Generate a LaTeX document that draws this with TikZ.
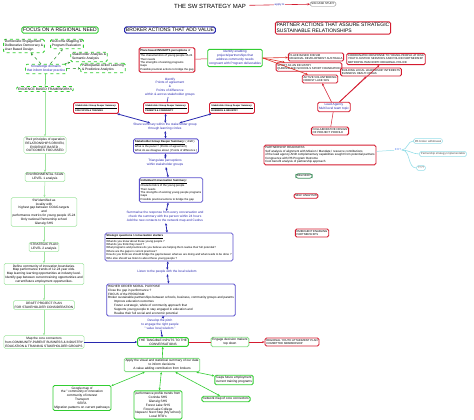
\documentclass[tikz,border=0pt]{standalone}
\usepackage{fontspec}
\setmainfont{Liberation Sans}
\usetikzlibrary{arrows.meta, positioning}

\definecolor{grn}{RGB}{50,205,50}
\definecolor{lgrn}{RGB}{160,228,160}
\definecolor{rd}{RGB}{212,28,48}
\definecolor{blu}{RGB}{90,80,205}
\definecolor{btx}{RGB}{40,40,175}
\definecolor{cyn}{RGB}{150,222,232}
\definecolor{dgrn}{RGB}{70,150,100}

\newcommand{\hd}{\fontsize{5}{6}\selectfont}
\newcommand{\sm}{\fontsize{2.8}{3.4}\selectfont}
\newcommand{\tn}{\fontsize{2.3}{2.9}\selectfont}

\begin{document}
\begin{tikzpicture}[x=1pt, y=-1pt, >={Stealth[length=2.4pt,width=2.2pt]},
  font=\fontsize{3.2}{3.9}\selectfont,
  box/.style={draw, rounded corners=1.5pt, inner sep=1.3pt, fill=white},
  gbox/.style={box, draw=grn, line width=0.9pt, align=center},
  gdash/.style={box, draw=grn, line width=0.9pt, dashed, align=left, font=\fontsize{3.3}{3.9}\selectfont},
  lgbox/.style={box, draw=lgrn, line width=0.5pt, align=center},
  rbox/.style={box, draw=rd, line width=0.9pt, align=left},
  bbox/.style={box, draw=blu, line width=0.8pt, align=left},
  cbox/.style={box, draw=cyn, line width=0.5pt, text=gray!60!black},
  btxt/.style={text=btx, align=center, inner sep=0.5pt},
  garrow/.style={->, draw=lgrn, line width=0.5pt},
  gdarrow/.style={<->, draw=grn, line width=0.6pt},
  barrow/.style={<->, draw=btx, line width=0.8pt},
  rarrow/.style={->, draw=rd, line width=0.6pt}]
\useasboundingbox (0,0) rectangle (474,420);

% Title and headings
\node[font=\fontsize{6}{7}\selectfont] (title) at (210,6) {THE SW STRATEGY MAP};
\node[box, draw=gray, line width=0.4pt, font=\sm] (case) at (323,4) {SW CASE STUDY};
\draw[rarrow] (title) -- node[fill=white, text=btx, font=\sm, inner sep=0.3pt] {apply to} (case);
\node[gbox, font=\hd] (focus) at (60,30) {FOCUS ON A REGIONAL NEED};
\node[bbox, draw=btx, line width=1pt, font=\hd] (broker) at (170,30) {BROKER ACTIONS THAT ADD VALUE};
\node[rbox, font=\hd] (partner) at (333,28) {PARTNER ACTIONS THAT ASSURE STRATEGIC\\SUSTAINABLE RELATIONSHIPS};

% Knowledge domains
\node[gdash] (demo) at (24,46) {Democratic Engagement\\Deliberative Democracy \&\\User Based Design};
\node[gdash] (outcome) at (67,44) {Outcome Mapping \&\\Program Evaluation};
\node[gdash] (stake) at (89,57) {Stakeholder Analysis \&\\Semantic Analysis};
\node[gdash] (pal) at (103,68) {Participative Action Learning\\\& Predictive Analytics};
\node[gdash, text=btx, align=center] (know) at (46,69) {Knowledge domains\\that inform broker practice};
\node[gdash] (evid) at (45,89) {EVIDENCE BASED FRAMEWORKS};
\foreach \d in {demo, outcome, stake, pal}
  \draw[->, draw=grn!70!black, dashed, line width=0.5pt] (know) -- (\d);
\draw[draw=grn, line width=0.5pt] (know) -- (evid);

% Regional need column
\node[lgbox] (princ) at (45,145) {Their principles of operation\\RELATIONSHIPS DRIVEN,\\EVIDENCE BASED ,\\OUTCOMES FOCUSSED};
\node[lgbox] (env) at (45,177) {ENVIRONMENTAL SCAN\\LEVEL 1 analysis};
\node[lgbox] (swid) at (44,212) {SW identified as\\locality with\\highest gap between COAG targets\\and\\performance metrics for young people 15-24\\Only national Partnership school\\Glenelg SHS};
\node[lgbox] (strat) at (44,247) {STRATEGIC PLAN\\LEVEL 2 analysis};
\node[lgbox] (define) at (44,274) {Define community of innovation boundaries.\\Map performance trends of 12-24 year olds.\\Map learning /earning opportunities at industry level.\\Identify gap between current training opportunities and\\current/future employment opportunities.};
\node[lgbox] (draft) at (44,305) {DRAFT PROJECT PLAN\\FOR STAKEHOLDER CONSIDERATION};
\node[lgbox] (mapcore) at (44,342) {Map the core connectors\\from COMMUNITY-PARENT BUSINESS \& INDUSTRY\\EDUCATION \& TRAINING STAKEHOLDER GROUPS};
\foreach \a/\b in {evid/princ, princ/env, env/swid, swid/strat, strat/define, define/draft, draft/mapcore}
  \draw[garrow] (\a) -- (\b);

% Broker actions column
\node[rbox, font=\sm] (place) at (167,60) {\underline{\textbf{Place based INSIGHTS perceptions}} of\\The characteristics of young people 15-24\\Their needs\\The strengths of existing programs\\Gaps\\Possible practical actions to bridge the gap};
\node[gbox, text=btx] (identify) at (235,58) {Identify enabling\\projects/partnerships that\\address community needs\\congruent with Program deliverables};
\node[btxt] (points) at (170,87) {Identify\\Points of agreement\\\&\\Points of difference\\within \& across stakeholder groups};
\node[rbox, font=\tn, inner sep=2pt] (sgedu) at (96,108) {\underline{\textbf{Stakeholder Group Deeper Summary:}}\\\textbf{EDUCATION \& TRAINING}};
\node[rbox, font=\tn, inner sep=2pt] (sgpar) at (166,108) {\underline{\textbf{Stakeholder Group Deeper Summary:}}\\\textbf{PARENTS \& COMMUNITY}};
\node[rbox, font=\tn, inner sep=2pt] (sgbus) at (232,108) {\underline{\textbf{Stakeholder Group Deeper Summary:}}\\\textbf{BUSINESS \& INDUSTRY}};
\node[btxt] (share) at (165,127) {Share summary within the stakeholder group\\through learning circles};
\node[bbox, font=\sm] (sgdraft) at (166,146) {\underline{\textbf{Stakeholder Group Deeper Summary:}} ( draft )\\What is the panel ? (Points of agreement)\\What do we disagree about ( Points of difference )};
\node[btxt] (tri) at (165,163) {Triangulate perceptions\\within stakeholder groups};
\node[bbox, font=\sm] (indiv) at (171,190) {\underline{\textbf{Individual Conversation Summary:}}\\Characteristics of the young people\\Their needs\\The strengths of existing young people programs\\Gaps\\Possible practical actions to bridge the gap};
\node[btxt] (summ) at (165,217) {Summarise the response from every conversation and\\check the summary with the person within 24 hours\\Add the new contacts to the network map and Cedrus};
\node[bbox, font=\sm] (strq) at (169,247) {\underline{\textbf{Strategic questions / conversation starters}}\\What do you know about these young people ?\\What do you think they need ?\\What programs and practices do you believe are helping them realise their full potential?\\Where are the gaps in current practices?\\How do you think we should bridge the gap between what we are doing and what needs to be done ?\\Who else should we listen to about these young people ?};
\node[btxt] (listen) at (167,272) {Listen to the people with the local wisdom};
\node[bbox, font=\fontsize{3.1}{3.8}\selectfont] (moral) at (171,300) {HIGHER ORDER MORAL PURPOSE\\Close the gap in performance ?\\FOCUS of the PROGRAM\\Broker sustainable partnerships between schools, business, community groups and parents\\\hspace{6pt}Improve education outcomes\\\hspace{6pt}Foster a strategic, whole of community approach that\\\hspace{6pt}Supports young people to stay engaged in education and\\\hspace{6pt}Realise their full social and economic potential};
\node[btxt] (pitch) at (160,324) {Develop the pitch\\to engage the right people\\" value local wisdom "};
\node[gbox] (tang) at (163,342) {THE TANGIBLE INPUTS TO THE\\CONVERSATIONS};
\node[gbox, draw=lgrn!80!grn] (engage) at (230,342) {Engage decision makers\\top down};
\node[rbox, font=\sm] (ryap) at (292,342) {REGIONAL YOUTH ATTAINMENT PLAN\\COMMITTED MEMBERSHIP};
\node[gbox, draw=lgrn!80!grn] (applyv) at (162,365) {Apply the visual and statistical summary of our data\\to inform decisions\\A value adding contribution from brokers};
\node[gbox] (google) at (82,398) {Google map of\\the " community of innovation\\community of interest\\Transport\\SEIFA\\Migration patterns on current pathways};
\node[gbox] (perf) at (158,405) {performance profile trends from\\Corinda SHS\\Glenelg SHS\\Forest Lake SHS\\Forest Lake College\\Nepean / Next Step (My school)\\Local RTO's};
\node[gbox] (gaps) at (234,380) {Gaps future employment\\current training programs};
\node[gbox] (netmap) at (226,399) {network map of core connectors};

\draw[draw=rd, line width=0.5pt] (place) -- (identify);
\draw[draw=btx, line width=0.5pt] (points) -- (sgpar);
\draw[barrow] (sgedu) -- (share);
\draw[barrow] (sgbus) -- (share);
\foreach \a/\b in {sgpar/share, share/sgdraft, sgdraft/tri, tri/indiv, indiv/summ, summ/strq, strq/listen, listen/moral, moral/pitch}
  \draw[barrow] (\a) -- (\b);
\draw[->, draw=btx, line width=0.8pt] (pitch) -- (tang);
\draw[->, draw=btx, line width=0.9pt] (mapcore) -- (tang);
\draw[draw=rd, line width=0.5pt] (tang) -- (engage);
\draw[rarrow] (engage) -- (ryap);
\draw[->, draw=grn, line width=0.6pt] (applyv) -- (tang);
\foreach \d in {google, perf, gaps, netmap}
  \draw[gdarrow] (applyv) -- (\d);

% Partner actions column
\node[rbox, font=\sm] (pbf) at (316,57) {PLACE BASED FORUM\\REGIONAL DEVELOPMENT AUSTRALIA};
\node[rbox, font=\sm] (coord) at (386,59) {COORDINATED RESPONSE TO YOUNG PEOPLE AT RISK\\YOUTH JUSTICE SERVICES AND POLICE PARTNERSHIP\\METROPOLITAN NORTH REGIONAL POLICE};
\node[rbox, font=\sm] (sport) at (309,67) {SPORT AS AN INDUSTRY\\QUEENSLAND SCHOOLS SPORT FOUNDATION};
\node[rbox, font=\sm] (build) at (371,72) {BUILDING LOCAL LEADERSHIP INTERESTS\\BUSINESS HEALTH IDEAS};
\node[rbox, font=\sm] (active) at (320,79) {ACTIVE VOLUNTEERING\\FOREST LAKE SHS};
\node[rbox, text=btx, align=center] (lead) at (334,107) {Lead Agency\\Multi level team topic};
\node[rbox, font=\sm] (collab) at (330,131) {COLLABORATIVE DESIGN\\OF PROJECT PROFILE};
\node[rbox, font=\fontsize{3}{3.6}\selectfont] (ready) at (320,155) {PARTNERSHIP READINESS\\Self analysis of alignment with Mission / Mandate / resource contributions\\of the lead agency AND complementary capabilities sought from potential partners\\Congruence with PB Program Outcome\\Cost benefit analysis of partnership approach};
\node[text=cyn!60!blue, font=\sm, inner sep=0.5pt] (exit) at (398,150) {EXIT};
\node[cbox, font=\sm] (pbw) at (428,141) {PB broker withdrawal};
\node[cbox, font=\sm] (psi) at (443,154) {Partnership strategy Implementable};
\node[cbox, font=\sm] (exq) at (421,168) {????};
\node[box, draw=dgrn, line width=0.8pt, rounded corners=2.5pt, font=\sm] (delivery) at (304,176) {DELIVERY};
\node[rbox, font=\sm] (self) at (306,196) {SELF ANALYSIS};
\node[rbox, font=\sm] (emerg) at (312,233) {EMERGENT ENABLING\\PARTNERSHIPS};

\foreach \d in {pbf, sport, active}
  \draw[rarrow, draw=rd!80!orange] (identify.east) -- (\d);
\foreach \d in {active, build, coord}
  \draw[rarrow] (lead) -- (\d);
\draw[draw=rd, line width=0.5pt] (lead) -- (collab);
\draw[draw=cyn, line width=0.5pt] (ready) -- (exit);
\foreach \d in {pbw, psi, exq}
  \draw[draw=cyn, line width=0.6pt] (exit.east) to[out=0, in=180] (\d.west);
\end{tikzpicture}
\end{document}
